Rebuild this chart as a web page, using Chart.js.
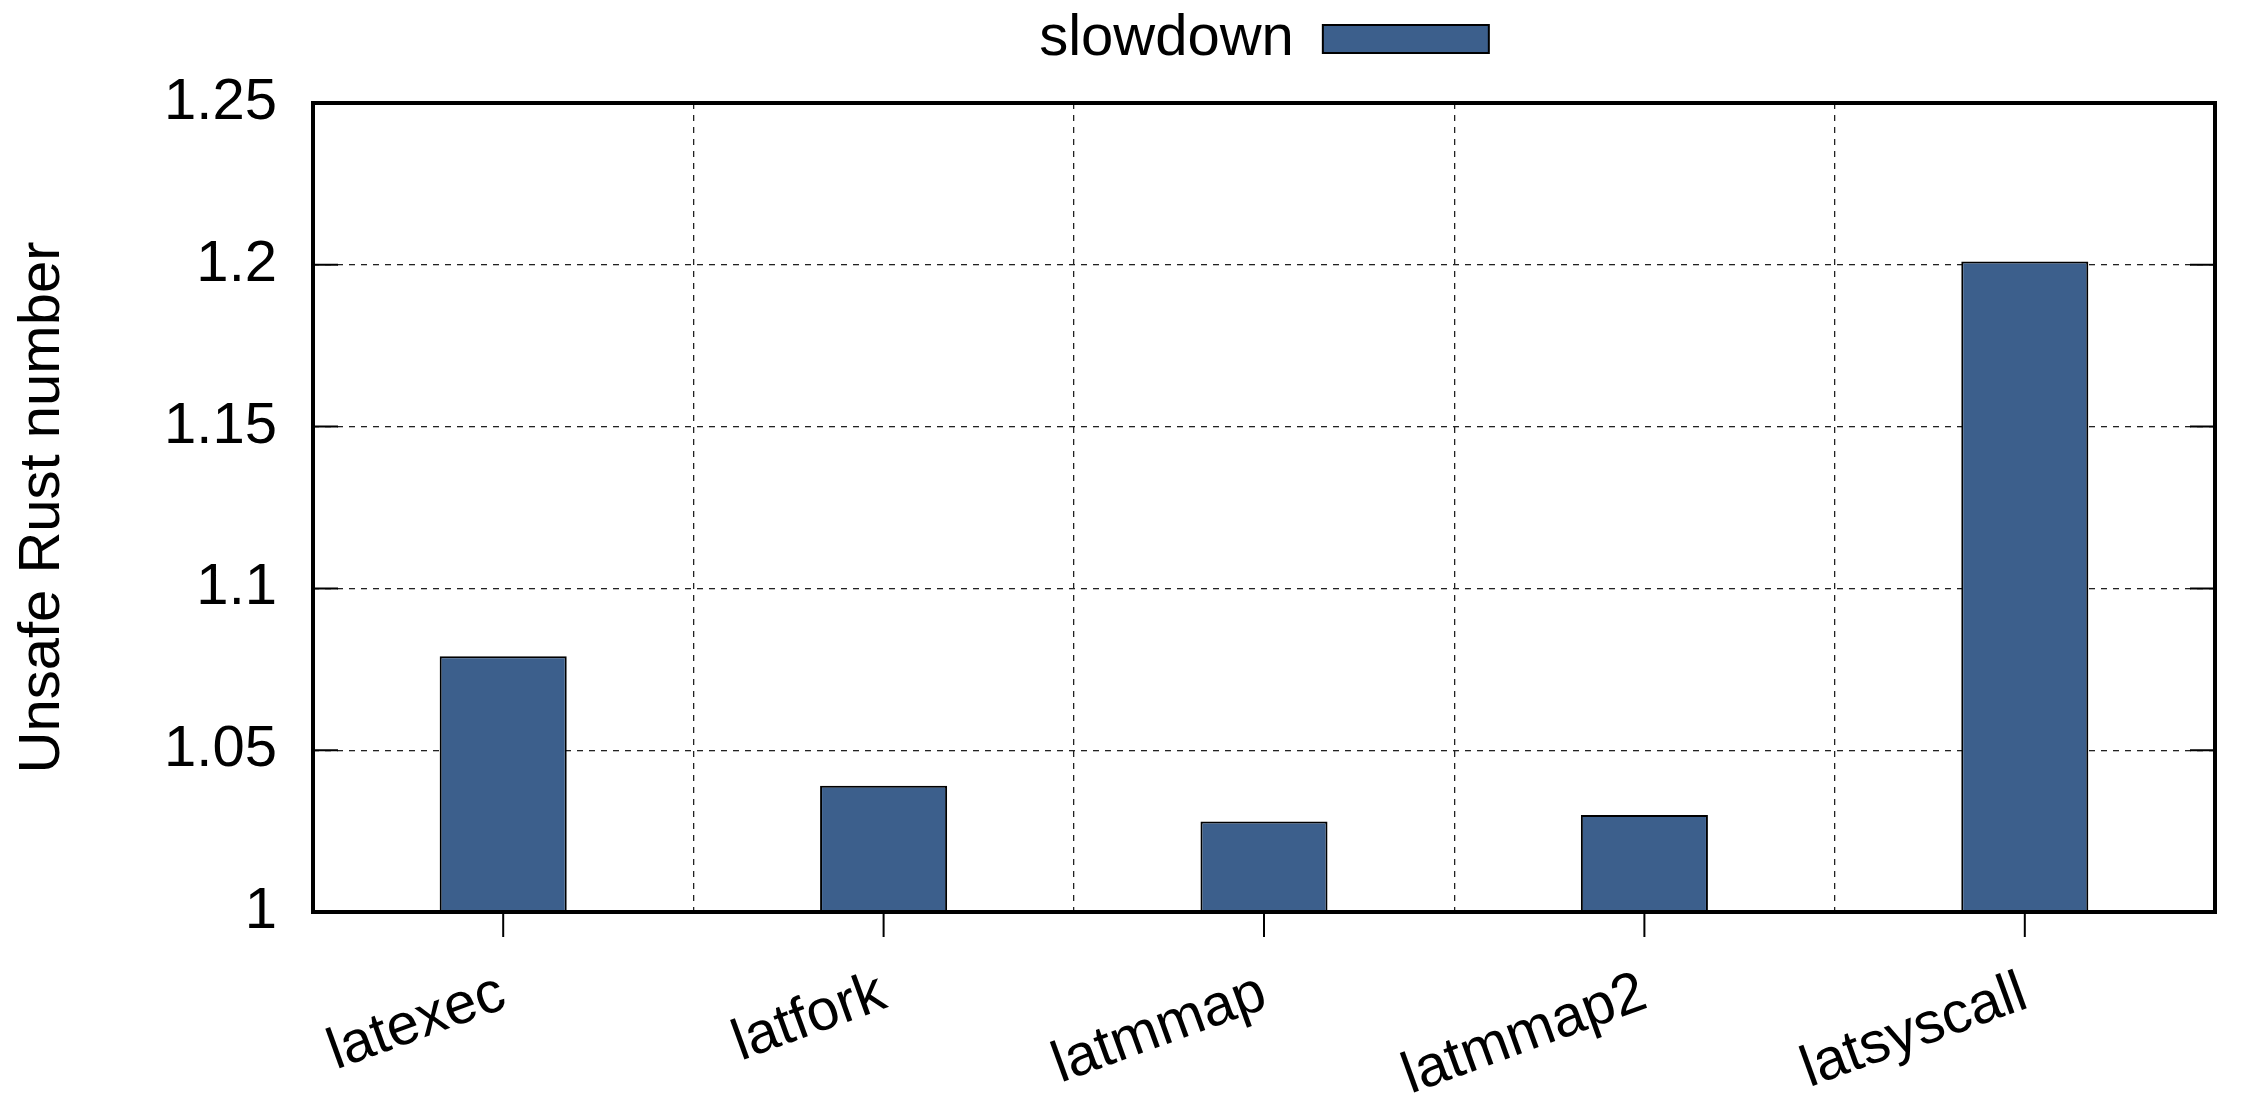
<!DOCTYPE html>
<html>
<head>
<meta charset="utf-8">
<script src="https://cdn.jsdelivr.net/npm/chart.js@4/dist/chart.umd.min.js"></script>
<style>
  html, body { margin: 0; padding: 0; background: #fff; }
  #chart { display: block; }
</style>
</head>
<body>
<canvas id="chart" width="2244" height="1101"></canvas>
<script>
// data
const categories = ['latexec', 'latfork', 'latmmap', 'latmmap2', 'latsyscall'];
const slowdown = [1.079, 1.039, 1.028, 1.030, 1.201];
const yTicks = [1, 1.05, 1.1, 1.15, 1.2, 1.25];

const FONT = "'Liberation Sans', Arial, sans-serif";
const FONT_SIZE = 58;
const BAR = '#3c5f8c';

// push the plot area down below the legend
const legendGap = {
  id: 'legendGap',
  beforeInit(chart) {
    const fit = chart.legend.fit;
    chart.legend.fit = function () {
      fit.bind(chart.legend)();
      this.height += 25;
    };
  }
};

// gnuplot style frame, inward y ticks, outward x ticks at the bar centres
const frame = {
  id: 'frame',
  afterDatasetsDraw(chart) {
    const { ctx, chartArea: a, scales: { x, y } } = chart;
    ctx.save();
    ctx.strokeStyle = '#000';
    ctx.lineWidth = 2;
    ctx.beginPath();
    y.ticks.forEach(t => {
      const py = y.getPixelForValue(t.value);
      ctx.moveTo(a.left, py); ctx.lineTo(a.left + 25, py);
      ctx.moveTo(a.right, py); ctx.lineTo(a.right - 25, py);
    });
    categories.forEach((c, i) => {
      const px = x.getPixelForValue(i);
      ctx.moveTo(px, a.bottom); ctx.lineTo(px, a.bottom + 25);
    });
    ctx.stroke();
    ctx.lineWidth = 4;
    ctx.strokeRect(a.left, a.top, a.right - a.left, a.bottom - a.top);
    ctx.restore();
  }
};

new Chart(document.getElementById('chart'), {
  type: 'bar',
  data: {
    labels: categories,
    datasets: [{
      label: 'slowdown',
      data: slowdown,
      backgroundColor: BAR,
      borderColor: '#000',
      borderWidth: 2,
      categoryPercentage: 1,
      barPercentage: 0.334
    }]
  },
  options: {
    responsive: false,
    devicePixelRatio: 1,
    animation: false,
    layout: { padding: { left: 0, right: 29, top: 0, bottom: 0 } },
    plugins: {
      tooltip: { enabled: false },
      legend: {
        position: 'top',
        fullSize: false,
        rtl: true,
        labels: {
          font: { family: FONT, size: FONT_SIZE },
          color: '#000',
          boxWidth: 166,
          boxHeight: 28,
          padding: 10
        }
      }
    },
    scales: {
      x: {
        offset: true,
        grid: {
          offset: true,
          drawTicks: false,
          color: '#222',
          lineWidth: 1.3
        },
        border: { display: false, dash: [6, 6] },
        ticks: {
          color: '#000',
          font: { family: FONT, size: FONT_SIZE },
          maxRotation: 20,
          minRotation: 20,
          padding: 47
        },
        afterFit(s) { s.height = 189; }
      },
      y: {
        min: 1,
        max: 1.25,
        afterBuildTicks(s) { s.ticks = yTicks.map(v => ({ value: v })); },
        grid: {
          drawTicks: false,
          color: '#222',
          lineWidth: 1.3
        },
        border: { display: false, dash: [6, 6] },
        ticks: {
          color: '#000',
          font: { family: FONT, size: FONT_SIZE },
          padding: 36,
          callback: v => String(Number(v.toFixed(2)))
        },
        title: {
          display: true,
          text: 'Unsafe Rust number',
          color: '#000',
          font: { family: FONT, size: FONT_SIZE },
          padding: { top: 8, bottom: 0 }
        },
        afterFit(s) { s.width = 313; }
      }
    }
  },
  plugins: [legendGap, frame]
});
</script>
</body>
</html>
